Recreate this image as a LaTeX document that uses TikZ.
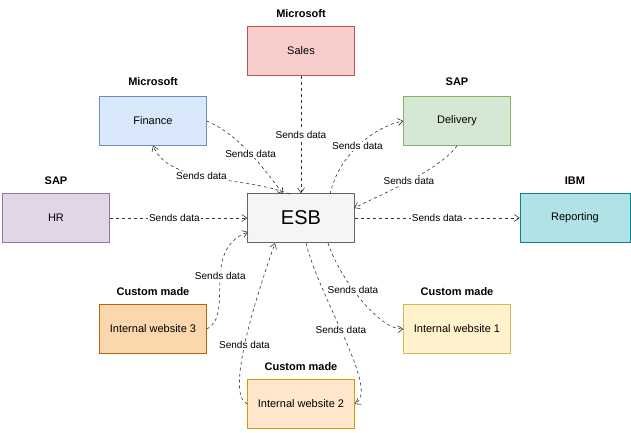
\documentclass[tikz,border=0pt]{standalone}
\usepackage{fontspec}
\setmainfont{Liberation Sans}
\usetikzlibrary{arrows.meta}
\begin{document}
\begin{tikzpicture}[x=1pt,y=-1pt,
 box/.style={draw=#1,minimum width=107pt,minimum height=49pt,font=\fontsize{11}{13}\selectfont,inner sep=0pt},
 ttl/.style={font=\bfseries\fontsize{11}{13}\selectfont},
 con/.style={draw=black!80,dashed,-{Straight Barb[length=5pt,width=7pt]},line width=0.6pt},
 lab/.style={fill=white,font=\fontsize{10}{12}\selectfont,inner sep=1pt}]
\useasboundingbox (0,0) rectangle (631,432);
\definecolor{sf}{HTML}{F8CECC}\definecolor{ss}{HTML}{B85450}
\definecolor{ff}{HTML}{DAE8FC}\definecolor{fs}{HTML}{6C8EBF}
\definecolor{df}{HTML}{D5E8D4}\definecolor{ds}{HTML}{82B366}
\definecolor{hf}{HTML}{E1D5E7}\definecolor{hs}{HTML}{9673A6}
\definecolor{ef}{HTML}{F5F5F5}\definecolor{es}{HTML}{666666}
\definecolor{rf}{HTML}{B0E3E6}\definecolor{rs}{HTML}{0E8088}
\definecolor{af}{HTML}{FAD7AC}\definecolor{as}{HTML}{B46504}
\definecolor{bf}{HTML}{FFF2CC}\definecolor{bs}{HTML}{D6B656}
\definecolor{cf}{HTML}{FFE6CC}\definecolor{cs}{HTML}{D79B00}
\node[box=ss,fill=sf] (sales) at (301,51) {Sales};
\node[ttl] (t1) at (301,14) {Microsoft};
\node[box=fs,fill=ff] (fin) at (153,121) {Finance};
\node[ttl] (t2) at (153,82) {Microsoft};
\node[box=ds,fill=df] (del) at (457,121) {Delivery};
\node[ttl] (t3) at (457,82) {SAP};
\node[box=hs,fill=hf] (hr) at (56,218) {HR};
\node[ttl] (t4) at (56,181) {SAP};
\node[box=es,fill=ef,font=\fontsize{20}{24}\selectfont] (esb) at (301,218) {ESB};
\node[box=rs,fill=rf,minimum width=110pt] (rep) at (575,218) {Reporting};
\node[ttl] (t5) at (575,181) {IBM};
\node[box=as,fill=af] (w3) at (153,329) {Internal website 3};
\node[ttl] (t6) at (153,292) {Custom made};
\node[box=bs,fill=bf] (w1) at (457,329) {Internal website 1};
\node[ttl] (t7) at (457,292) {Custom made};
\node[box=cs,fill=cf] (w2) at (301,404) {Internal website 2};
\node[ttl] (t8) at (301,367) {Custom made};
\draw[con] (sales) -- node[lab,pos=0.5]{Sends data} (esb);
\draw[con] (fin.east) .. controls (240,135) and (265,170) .. node[lab,pos=0.5]{Sends data} (283,194);
\draw[con] (290,194) .. controls (240,175) and (170,185) .. node[lab,pos=0.55]{Sends data} (fin.south);
\draw[con] (330,194) .. controls (340,150) and (380,125) .. node[lab,pos=0.45]{Sends data} (del.west);
\draw[con] (del.south) .. controls (440,170) and (380,195) .. node[lab,pos=0.5]{Sends data} (354,208);
\draw[con] (hr) -- node[lab,pos=0.47]{Sends data} (esb);
\draw[con] (esb) -- node[lab,pos=0.5]{Sends data} (rep);
\draw[con] (w3.east) .. controls (235,315) and (200,250) .. node[lab,pos=0.55]{Sends data} (248,232);
\draw[con] (w2.west) .. controls (225,395) and (255,300) .. node[lab,pos=0.48]{Sends data} (275,243);
\draw[con] (328,243) .. controls (340,280) and (380,330) .. node[lab,pos=0.4]{Sends data} (w1.west);
\draw[con] (306,243) .. controls (320,300) and (380,390) .. node[lab,pos=0.45]{Sends data} (w2.east);
\end{tikzpicture}
\end{document}
